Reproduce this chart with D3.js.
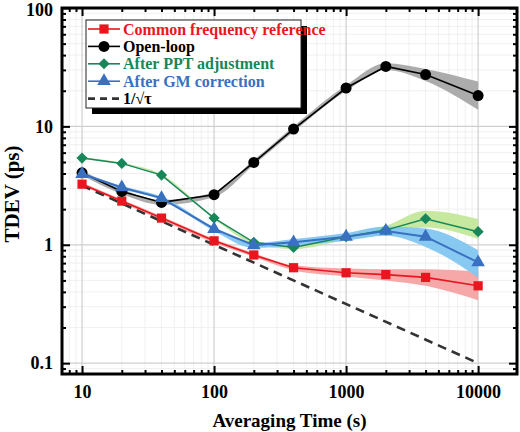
<!DOCTYPE html>
<html>
<head>
<meta charset="utf-8">
<script src="https://cdn.jsdelivr.net/npm/d3@7"></script>
<style>
  body { margin: 0; background: #fff; }
  svg text { font-family: 'Liberation Serif', 'Times New Roman', Times, serif !important; font-weight: bold; }
</style>
</head>
<body>
<svg id="chart" width="520" height="432"></svg>
<script>
// averaging times (s)
const tau = [10, 20, 40, 100, 200, 400, 1000, 2000, 4000, 10000];

// TDEV (ps) per series, with shaded band bounds
const commonRef   = [3.25, 2.34, 1.68, 1.08, 0.82, 0.64, 0.58, 0.56, 0.53, 0.45];
const commonRefLo = [3.15, 2.27, 1.62, 1.04, 0.79, 0.61, 0.54, 0.50, 0.45, 0.34];
const commonRefHi = [3.35, 2.41, 1.74, 1.12, 0.85, 0.67, 0.63, 0.62, 0.62, 0.59];

const openLoop   = [4.05, 2.82, 2.28, 2.65, 4.96, 9.5, 21.1, 32.1, 27.4, 18.2];
const openLoopLo = [3.85, 2.68, 2.17, 2.52, 4.72, 9.0, 19.9, 30.0, 24.2, 13.8];
const openLoopHi = [4.25, 2.96, 2.39, 2.78, 5.20, 10.0, 22.3, 34.2, 30.6, 23.9];

const afterPPT   = [5.4, 4.87, 3.88, 1.68, 1.05, 0.95, 1.17, 1.33, 1.66, 1.29];
const afterPPTLo = [5.3, 4.80, 3.82, 1.65, 1.02, 0.92, 1.10, 1.22, 1.40, 1.12];
const afterPPTHi = [5.5, 4.94, 3.94, 1.71, 1.08, 0.98, 1.24, 1.45, 1.94, 1.65];

const afterGM   = [3.96, 3.05, 2.48, 1.36, 0.99, 1.05, 1.17, 1.31, 1.17, 0.71];
const afterGMLo = [3.86, 2.96, 2.40, 1.31, 0.94, 0.98, 1.08, 1.19, 0.96, 0.53];
const afterGMHi = [4.06, 3.14, 2.56, 1.41, 1.04, 1.12, 1.26, 1.43, 1.37, 0.90];

// 1/sqrt(tau) reference line
const refTau = [10, 10000];
const refVal = [3.16, 0.1];

const xMajor = [10, 100, 1000, 10000];
const yMajor = [0.1, 1, 10, 100];
const yLabels = ["0.1", "1", "10", "100"];

const legendNames = ["Common frequency reference", "Open-loop", "After PPT adjustment", "After GM correction", "1/\u221A\u03C4"];

const FONT = "'Liberation Serif', 'Times New Roman', Times, serif";

const svg = d3.select("#chart");
const L = 62, T = 8, R = 517, B = 374;

const x = d3.scaleLog().domain([7.05, 19700]).range([L, R]);
const y = d3.scaleLog().domain([0.081, 100]).range([B, T]);

const xMinor = x.ticks().filter(d => !xMajor.includes(d));
const yMinor = y.ticks().filter(d => !yMajor.some(m => Math.abs(m - d) < 1e-9));

// grid
const grid = svg.append("g");
grid.selectAll(".gxm").data(xMinor).join("line")
  .attr("x1", d => x(d)).attr("x2", d => x(d)).attr("y1", T).attr("y2", B)
  .attr("stroke", "#ececec").attr("stroke-width", 0.8);
grid.selectAll(".gym").data(yMinor).join("line")
  .attr("y1", d => y(d)).attr("y2", d => y(d)).attr("x1", L).attr("x2", R)
  .attr("stroke", "#ececec").attr("stroke-width", 0.8);
grid.selectAll(".gx").data(xMajor).join("line")
  .attr("x1", d => x(d)).attr("x2", d => x(d)).attr("y1", T).attr("y2", B)
  .attr("stroke", "#cfcfcf").attr("stroke-width", 1.2);
grid.selectAll(".gy").data(yMajor).join("line")
  .attr("y1", d => y(d)).attr("y2", d => y(d)).attr("x1", L).attr("x2", R)
  .attr("stroke", "#cfcfcf").attr("stroke-width", 1.2);

// series (rot = marker rotation, for the diamond)
const series = [
  { v: commonRef, lo: commonRefLo, hi: commonRefHi, color: "#e8171f", band: "#f5a3a3", sym: d3.symbolSquare, size: 85, rot: 0, lw: 1.6 },
  { v: openLoop, lo: openLoopLo, hi: openLoopHi, color: "#000000", band: "#a8a8a8", sym: d3.symbolCircle, size: 95, rot: 0, lw: 1.6 },
  { v: afterPPT, lo: afterPPTLo, hi: afterPPTHi, color: "#17875a", band: "#c3e79a", sym: d3.symbolSquare, size: 62, rot: 45, lw: 1.5 },
  { v: afterGM, lo: afterGMLo, hi: afterGMHi, color: "#3a70c0", band: "#82c6f0", sym: d3.symbolTriangle, size: 80, rot: 0, lw: 2 }
];

const area = d3.area().x((d, i) => x(tau[i])).y0(d => y(d[0])).y1(d => y(d[1])).curve(d3.curveMonotoneX);
const line = d3.line().x((d, i) => x(tau[i])).y(d => y(d));

const plot = svg.append("g");
series.forEach(s => {
  plot.append("path").datum(s.lo.map((d, i) => [d, s.hi[i]]))
    .attr("d", area).attr("fill", s.band).attr("opacity", 0.95);
});

// 1/sqrt(tau) dashed line
plot.append("path").datum(refVal)
  .attr("d", d3.line().x((d, i) => x(refTau[i])).y(d => y(d)))
  .attr("fill", "none").attr("stroke", "#333").attr("stroke-width", 2.6)
  .attr("stroke-dasharray", "9,6");

series.forEach(s => {
  plot.append("path").datum(s.v).attr("d", line)
    .attr("fill", "none").attr("stroke", s.color).attr("stroke-width", s.lw);
  plot.selectAll(null).data(s.v).join("path")
    .attr("transform", (d, i) => `translate(${x(tau[i])},${y(d)}) rotate(${s.rot})`)
    .attr("d", d3.symbol().type(s.sym).size(s.size))
    .attr("fill", s.color);
});

// axes with inward ticks
function styleAxis(g) {
  g.attr("font-family", FONT);
  g.select(".domain").remove();
  g.selectAll(".tick line").attr("stroke", "#000").attr("stroke-width", 2);
  g.selectAll("text").attr("fill", "#000")
    .style("font-family", FONT).style("font-size", "18px").style("font-weight", "bold");
}
svg.append("g").attr("transform", `translate(0,${B})`)
  .call(d3.axisBottom(x).tickValues(xMajor).tickSize(-8).tickPadding(11).tickFormat(d3.format("d"))).call(styleAxis);
svg.append("g").attr("transform", `translate(0,${B})`)
  .call(d3.axisBottom(x).tickValues(xMinor).tickSize(-4).tickFormat("")).call(styleAxis);
svg.append("g").attr("transform", `translate(0,${T})`)
  .call(d3.axisTop(x).tickValues(xMajor).tickSize(-8).tickFormat("")).call(styleAxis);
svg.append("g").attr("transform", `translate(0,${T})`)
  .call(d3.axisTop(x).tickValues(xMinor).tickSize(-4).tickFormat("")).call(styleAxis);
svg.append("g").attr("transform", `translate(${L},0)`)
  .call(d3.axisLeft(y).tickValues(yMajor).tickSize(-8).tickPadding(9).tickFormat((d, i) => yLabels[i])).call(styleAxis);
svg.append("g").attr("transform", `translate(${L},0)`)
  .call(d3.axisLeft(y).tickValues(yMinor).tickSize(-4).tickFormat("")).call(styleAxis);
svg.append("g").attr("transform", `translate(${R},0)`)
  .call(d3.axisRight(y).tickValues(yMajor).tickSize(-8).tickFormat("")).call(styleAxis);
svg.append("g").attr("transform", `translate(${R},0)`)
  .call(d3.axisRight(y).tickValues(yMinor).tickSize(-4).tickFormat("")).call(styleAxis);

// nudge the top "100" label down so it fits
svg.selectAll("text").filter(function () { return this.textContent === "100" && this.getAttribute("dy") === "0.32em"; })
  .attr("dy", "0.42em");

// frame
svg.append("rect").attr("x", L).attr("y", T).attr("width", R - L).attr("height", B - T)
  .attr("fill", "none").attr("stroke", "#000").attr("stroke-width", 3);

// axis titles
svg.append("text").attr("x", (L + R) / 2).attr("y", 427).attr("text-anchor", "middle")
  .style("font-family", FONT).style("font-size", "19px").text("Averaging Time (s)");
svg.append("text").attr("transform", `translate(19,194) rotate(-90)`)
  .attr("text-anchor", "middle").style("font-family", FONT).style("font-size", "21px").text("TDEV (ps)");

// legend
const lg = svg.append("g").attr("transform", "translate(86,20)");
lg.append("rect").attr("x", 6).attr("y", 6).attr("width", 215).attr("height", 88).attr("fill", "#000");
lg.append("rect").attr("x", 0).attr("y", 0).attr("width", 215).attr("height", 88)
  .attr("fill", "#fff").attr("stroke", "#222").attr("stroke-width", 1);
const legendColors = series.map(s => s.color).concat(["#000"]);
legendNames.forEach((name, i) => {
  const ly = 9 + i * 17.4;
  const row = lg.append("g").attr("transform", `translate(0,${ly})`);
  if (i < 4) {
    const s = series[i];
    row.append("line").attr("x1", 2).attr("x2", 34).attr("stroke", s.color).attr("stroke-width", 1.6);
    row.append("path").attr("transform", `translate(18,0) rotate(${s.rot})`)
      .attr("d", d3.symbol().type(s.sym).size(s.size)).attr("fill", s.color);
  } else {
    row.append("line").attr("x1", 2).attr("x2", 34).attr("stroke", "#333").attr("stroke-width", 2.6)
      .attr("stroke-dasharray", "7,5");
  }
  row.append("text").attr("x", 37).attr("y", 5.5).style("font-family", FONT).style("font-size", "16px")
    .attr("fill", legendColors[i]).text(name);
});
</script>
</body>
</html>
